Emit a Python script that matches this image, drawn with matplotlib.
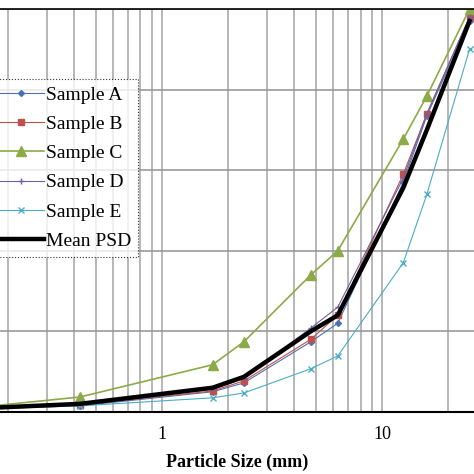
import matplotlib
matplotlib.use("Agg")
import matplotlib.pyplot as plt
from matplotlib.ticker import LogLocator, NullFormatter, FixedLocator

plt.rcParams['font.family'] = ['Liberation Serif', 'DejaVu Serif']

sizes = [0.15, 0.425, 1.7, 2.36, 4.75, 6.3, 12.5, 16, 25]
sample_a = [0.8, 1.5, 5.0, 7.2, 17.4, 22.0, 57.0, 73.5, 97.0]
sample_b = [0.9, 1.7, 5.2, 7.7, 18.0, 24.0, 59.0, 74.0, 98.0]
sample_c = [1.2, 3.7, 11.7, 17.4, 34.0, 40.0, 67.7, 78.4, 100.0]
sample_d = [0.9, 1.8, 5.6, 8.3, 20.8, 26.0, 58.0, 74.0, 98.0]
sample_e = [0.7, 1.5, 3.5, 4.7, 10.7, 13.9, 37.0, 54.0, 90.0]
mean_psd = [0.9, 2.0, 6.0, 8.7, 20.0, 24.0, 55.6, 70.0, 97.0]

fig = plt.figure(figsize=(4.74, 4.74), dpi=100)
ax = fig.add_axes([0.0, 0.131, 1.0, 0.85])

ax.plot(sizes, sample_a, color='#4a72b0', marker='D', ms=3, lw=0.8, label='Sample A')
ax.plot(sizes, sample_b, color='#c0504d', marker='s', ms=5, lw=0.8, label='Sample B')
ax.plot(sizes, sample_c, color='#8caa48', marker='^', ms=7, lw=1.2, label='Sample C')
ax.plot(sizes, sample_d, color='#7060a0', marker='+', ms=5, lw=0.8, label='Sample D')
ax.plot(sizes, sample_e, color='#4bacc6', marker='x', ms=4, lw=0.8, label='Sample E')
ax.plot(sizes, mean_psd, color='black', lw=3.2, label='Mean PSD')

ax.set_xscale('log')
ax.set_xlim(0.184, 26.2)
ax.set_ylim(0, 100)
ax.xaxis.set_major_locator(FixedLocator([1, 10]))
ax.set_xticklabels(['1', '10'])
ax.xaxis.set_minor_locator(LogLocator(base=10, subs=range(2, 10)))
ax.xaxis.set_minor_formatter(NullFormatter())
ax.set_yticks([0, 20, 40, 60, 80, 100])
ax.tick_params(axis='y', left=False, labelleft=False)
ax.tick_params(axis='x', which='both', length=0, labelsize=13, pad=10)
ax.grid(True, which='both', axis='x', color='#aaaaaa', lw=1.2)
ax.grid(True, which='major', axis='y', color='#999999', lw=1.2)
for s in ['left', 'right']:
    ax.spines[s].set_visible(False)
ax.spines['bottom'].set_linewidth(1.5)
ax.spines['top'].set_linewidth(1.2)
ax.set_xlabel('Particle Size (mm)', fontsize=13, fontweight='bold', labelpad=8)

leg = ax.legend(loc='upper left', bbox_to_anchor=(-0.04, 0.85), fontsize=14,
                frameon=True, fancybox=False, borderpad=0.35, labelspacing=0.6,
                handlelength=2.4, handletextpad=0.1)
leg.get_frame().set_edgecolor('black')
leg.get_frame().set_linestyle(':')
leg.get_frame().set_linewidth(0.8)

fig.savefig('out.png', dpi=100)
